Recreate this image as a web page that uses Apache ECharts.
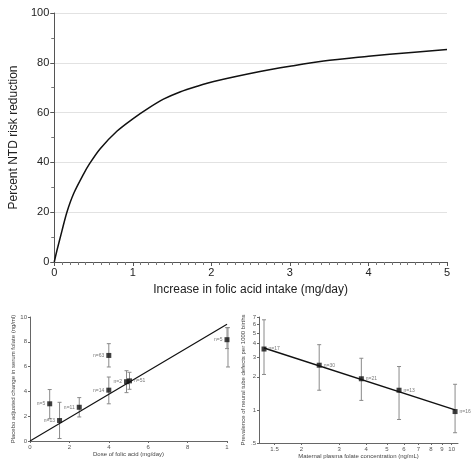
<!DOCTYPE html>
<html>
<head>
<meta charset="utf-8">
<style>
  html, body { margin: 0; padding: 0; background: #fff; }
  #main { width: 474px; height: 466px; }
</style>
<script src="https://cdn.jsdelivr.net/npm/echarts@6/dist/echarts.min.js"></script>
</head>
<body>
<div id="main"></div>
<script>
// top panel: modelled risk reduction curve
const intakeX = [0, 0.034, 0.098, 0.161, 0.246, 0.373, 0.45, 0.585, 0.797, 1.0, 1.2, 1.39, 1.6, 1.82, 2.03, 2.62, 3.0, 3.43, 4.0, 4.27, 5.0]
const riskReduction = [0, 4.6, 12.5, 20, 27.4, 35.3, 39.5, 45.5, 52.5, 57.5, 61.8, 65.4, 68.3, 70.6, 72.5, 76.5, 78.6, 80.7, 82.6, 83.4, 85.3]

// bottom left: dose vs serum folate change
const doseMg = [1, 1.5, 2.5, 4, 4, 4.9, 5.05, 10, 10.05]
const serumChange = [3.0, 1.65, 2.72, 6.9, 4.1, 4.78, 4.85, 8.17, 7.55]
const serumLow = [1.8, 0.2, 1.94, 5.97, 3.0, 3.9, 4.17, 7.45, 5.97]
const serumHigh = [4.15, 3.12, 3.5, 7.85, 5.16, 5.67, 5.54, 9.14, 9.14]
const doseN = ['n=5', 'n=13', 'n=11', 'n=63', 'n=14', 'n=2', 'n=51', 'n=5', 'n=6']
const doseLabelSide = ['left', 'left', 'left', 'left', 'left', 'left', 'right', 'left', 'right']
const doseFitX = [0, 10]
const doseFitY = [0, 9.41]
const doseTickText = { 0: '0', 2: '2', 4: '4', 6: '6', 8: '8', 10: '1' }

// bottom right: plasma folate vs NTD prevalence (log-log)
const plasmaX = [1.34, 2.42, 3.8, 5.69, 10.37]
const ntdRate = [3.58, 2.55, 1.92, 1.51, 0.966]
const ntdLow = [2.1, 1.51, 1.22, 0.818, 0.62]
const ntdHigh = [6.6, 3.92, 2.95, 2.48, 1.71]
const plasmaN = ['n=17', 'n=30', 'n=21', 'n=13', 'n=16']
const plasmaFitX = [1.34, 10.37]
const plasmaFitY = [3.66, 1.0]
const plasmaTicks = [1.5, 2, 3, 4, 5, 6, 7, 8, 9, 10]
const ntdTicks = [0.5, 1, 2, 3, 4, 5, 6, 7]

const font = '"Liberation Sans", Arial, sans-serif'
const chart = echarts.init(document.getElementById('main'))

const errorBars = (xs, lo, hi, idx) => ({
  type: 'custom',
  xAxisIndex: idx,
  yAxisIndex: idx,
  data: xs.map((x, i) => [x, lo[i], hi[i]]),
  renderItem: (params, api) => {
    const a = api.coord([api.value(0), api.value(1)])
    const b = api.coord([api.value(0), api.value(2)])
    const style = { stroke: '#8a8a8a', lineWidth: 1 }
    return {
      type: 'group',
      children: [
        { type: 'line', shape: { x1: a[0], y1: a[1], x2: b[0], y2: b[1] }, style },
        { type: 'line', shape: { x1: a[0] - 2, y1: a[1], x2: a[0] + 2, y2: a[1] }, style },
        { type: 'line', shape: { x1: b[0] - 2, y1: b[1], x2: b[0] + 2, y2: b[1] }, style }
      ]
    }
  },
  z: 2
})

const smallAxis = {
  axisLine: { lineStyle: { color: '#666', width: 1 } },
  axisTick: { lineStyle: { color: '#666' }, length: 2 },
  axisLabel: { fontSize: 6, color: '#555', fontFamily: font, margin: 3 },
  splitLine: { show: false },
  nameLocation: 'middle',
  nameTextStyle: { fontSize: 6, color: '#444', fontFamily: font }
}

const option = {
  animation: false,
  backgroundColor: '#fff',
  grid: [
    { left: 54, right: 27, top: 13, bottom: 204 },
    { left: 30, right: 247, top: 317, bottom: 25 },
    { left: 259, right: 16, top: 317, bottom: 23 }
  ],
  xAxis: [
    {
      gridIndex: 0, type: 'value', min: 0, max: 5, interval: 1,
      name: 'Increase in folic acid intake (mg/day)', nameLocation: 'middle', nameGap: 22,
      nameTextStyle: { fontSize: 12, color: '#222', fontFamily: font },
      axisLine: { lineStyle: { color: '#555' } },
      axisTick: { length: 4, lineStyle: { color: '#555' } },
      minorTick: { show: true, splitNumber: 10, length: 3, lineStyle: { color: '#777' } },
      axisLabel: { fontSize: 11, color: '#222', fontFamily: font, margin: 5 },
      splitLine: { show: false }
    },
    {
      gridIndex: 1, type: 'value', min: 0, max: 10, interval: 2,
      name: 'Dose of folic acid (mg/day)', nameGap: 9,
      ...smallAxis,
      axisLabel: { ...smallAxis.axisLabel, formatter: v => doseTickText[v] }
    },
    {
      gridIndex: 2, type: 'log', min: 1.27, max: 10.7,
      name: 'Maternal plasma folate concentration (ng/mL)', nameGap: 9,
      ...smallAxis,
      axisTick: { ...smallAxis.axisTick, customValues: plasmaTicks },
      axisLabel: { ...smallAxis.axisLabel, customValues: plasmaTicks }
    }
  ],
  yAxis: [
    {
      gridIndex: 0, type: 'value', min: 0, max: 100, interval: 20,
      name: 'Percent NTD risk reduction', nameLocation: 'middle', nameGap: 33,
      nameTextStyle: { fontSize: 12, color: '#222', fontFamily: font },
      axisLine: { show: true, lineStyle: { color: '#555' } },
      axisTick: { show: true, length: 4, lineStyle: { color: '#555' } },
      minorTick: { show: true, splitNumber: 2, length: 3, lineStyle: { color: '#777' } },
      axisLabel: { fontSize: 11, color: '#222', fontFamily: font, margin: 5 },
      splitLine: { show: true, lineStyle: { color: '#e2e2e2', width: 1 } }
    },
    {
      gridIndex: 1, type: 'value', min: 0, max: 10, interval: 2,
      name: 'Placebo adjusted change in serum folate (ng/ml)', nameGap: 13,
      ...smallAxis,
      axisLine: { show: true, lineStyle: { color: '#666' } },
      axisTick: { show: true, length: 2, lineStyle: { color: '#666' } }
    },
    {
      gridIndex: 2, type: 'log', min: 0.5, max: 7,
      name: 'Prevalence of neural tube defects per 1000 births', nameGap: 13,
      ...smallAxis,
      axisLine: { show: true, lineStyle: { color: '#666' } },
      axisTick: { show: true, length: 2, lineStyle: { color: '#666' }, customValues: ntdTicks },
      axisLabel: { ...smallAxis.axisLabel, customValues: ntdTicks, formatter: v => (v === 0.5 ? '.5' : String(v)) }
    }
  ],
  series: [
    {
      type: 'line', xAxisIndex: 0, yAxisIndex: 0,
      data: intakeX.map((x, i) => [x, riskReduction[i]]),
      smooth: 0.3, showSymbol: false,
      lineStyle: { color: '#111', width: 1.5 }
    },
    {
      type: 'line', xAxisIndex: 1, yAxisIndex: 1,
      data: doseFitX.map((x, i) => [x, doseFitY[i]]),
      showSymbol: false, lineStyle: { color: '#111', width: 1.2 }, z: 3
    },
    errorBars(doseMg, serumLow, serumHigh, 1),
    {
      type: 'scatter', xAxisIndex: 1, yAxisIndex: 1,
      data: doseMg.map((x, i) => ({
        value: [x, serumChange[i]],
        label: { show: true, formatter: doseN[i], position: doseLabelSide[i], distance: 2, fontSize: 5, color: '#555', fontFamily: font }
      })),
      symbol: 'rect', symbolSize: 5, itemStyle: { color: '#111' }, z: 4
    },
    {
      type: 'line', xAxisIndex: 2, yAxisIndex: 2,
      data: plasmaFitX.map((x, i) => [x, plasmaFitY[i]]),
      showSymbol: false, lineStyle: { color: '#111', width: 1.4 }, z: 3
    },
    errorBars(plasmaX, ntdLow, ntdHigh, 2),
    {
      type: 'scatter', xAxisIndex: 2, yAxisIndex: 2,
      data: plasmaX.map((x, i) => [x, ntdRate[i]]),
      symbol: 'rect', symbolSize: 5, itemStyle: { color: '#111' }, z: 4,
      label: { show: true, formatter: p => plasmaN[p.dataIndex], position: 'right', distance: 2, fontSize: 5, color: '#555', fontFamily: font }
    }
  ]
}

chart.setOption(option)
</script>
</body>
</html>
